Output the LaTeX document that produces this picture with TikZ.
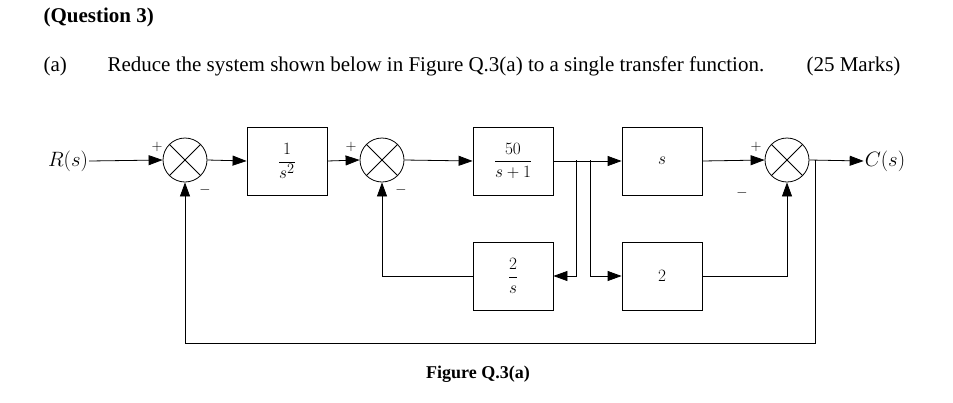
\documentclass[tikz,border=0pt]{standalone}
\usepackage{amsmath}
\usepackage{fontspec}
\setmainfont{Liberation Serif}
\usetikzlibrary{arrows.meta}
\begin{document}
\begin{tikzpicture}[x=1pt,y=-1pt,
  blk/.style={draw,thick,minimum width=80pt,minimum height=68pt,inner sep=0pt,font=\fontsize{19}{22}\selectfont},
  sm/.style={draw,thick,circle,minimum size=44pt,inner sep=0pt,path picture={
     \draw (path picture bounding box.north west)--(path picture bounding box.south east)
           (path picture bounding box.north east)--(path picture bounding box.south west);}},
  ar/.style={thick,-{Triangle[length=14pt,width=10pt]}},
  lab/.style={font=\fontsize{20}{22}\selectfont,inner sep=1pt},
  sgn/.style={font=\fontsize{15}{16}\selectfont,inner sep=0pt}]
\useasboundingbox (0,0) rectangle (953,402);
\node[anchor=west,font=\bfseries\fontsize{21}{24}\selectfont] (q) at (40,17) {(Question 3)};
\node[anchor=west,font=\fontsize{21}{24}\selectfont] (a) at (40,66) {(a)};
\node[anchor=west,font=\fontsize{21}{24}\selectfont] (t) at (104,66) {Reduce the system shown below in Figure Q.3(a) to a single transfer function.};
\node[anchor=west,font=\fontsize{21}{24}\selectfont] (m) at (803,66) {(25 Marks)};
\node[font=\bfseries\fontsize{18}{20}\selectfont] (cap) at (478,374) {Figure Q.3(a)};

\node[lab] (R) at (68,161) {$R(s)$};
\node[sm] (s1) at (185,160) {};
\node[blk] (b1) at (287,161) {$\dfrac{1}{s^{2}}$};
\node[sm] (s2) at (382,160) {};
\node[blk] (b2) at (513,161) {$\dfrac{50}{s+1}$};
\node[blk] (b3) at (662,161) {$s$};
\node[sm] (s3) at (787,160) {};
\node[blk] (b4) at (513,276) {$\dfrac{2}{s}$};
\node[blk] (b5) at (662,276) {$2$};
\node[lab] (C) at (885,161) {$C(s)$};

\node[sgn] (p1) at (157,147) {$+$};
\node[sgn] (n1) at (205,190) {$-$};
\node[sgn] (p2) at (351,147) {$+$};
\node[sgn] (n2) at (401,190) {$-$};
\node[sgn] (p3) at (756,147) {$+$};
\node[sgn] (n3) at (742,193) {$-$};

\coordinate (ja) at (576,160);
\coordinate (jb) at (590,160);
\coordinate (jo) at (815,160);

\draw[ar] (R.east) -- (s1.west);
\draw[ar] (s1.east) -- (b1.west);
\draw[ar] (b1.east) -- (s2.west);
\draw[ar] (s2.east) -- (b2.west);
\draw[ar] (b2.east) -- (b3.west);
\draw[ar] (b3.east) -- (s3.west);
\draw[ar] (s3.east) -- (C.west);
\draw[ar] (ja) |- (b4.east);
\draw[ar] (jb) |- (b5.west);
\draw[ar] (b5.east) -| (s3.south);
\draw[ar] (b4.west) -| (s2.south);
\draw[ar] (jo) -- ++(0,183) -| (s1.south);
\end{tikzpicture}
\end{document}
